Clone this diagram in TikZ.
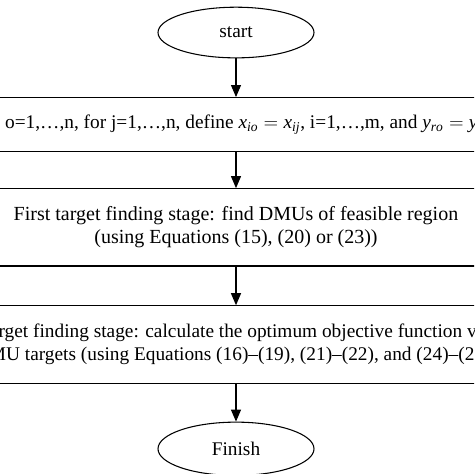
\documentclass[tikz,border=0pt]{standalone}
\usepackage{fontspec}
\setmainfont{Liberation Serif}
\usepackage{tikz}
\usetikzlibrary{positioning, arrows.meta, shapes.geometric}

\begin{document}
\begin{tikzpicture}[-{Triangle[width=7.5pt,length=9pt]}, line width=0.8pt, node distance = 1cm,
    every node/.style={font=\fontsize{14.5}{17.5}\selectfont},
    terminal/.style={draw, ellipse, inner sep=0pt, minimum width=117pt, minimum height=38pt},
    stagebox/.style={draw, rectangle, align=center, minimum width=600pt, minimum height=58pt}]
				\useasboundingbox (-177pt,24.4pt) rectangle (178.5pt,-331.1pt);
				\clip (-177pt,24.4pt) rectangle (178.5pt,-331.1pt);
				
				\node[terminal] (start)                                    {start};
				\node[stagebox, minimum height=40.5pt] (define) [below = 29pt of start]
				  {For DMU$_o$, o=1,\dots,n, for j=1,\dots,n, define $\mathit{x}_{\mathit{io}}=\mathit{x}_{\mathit{ij}}$, i=1,\dots,m, and $\mathit{y}_{\mathit{ro}}=\mathit{y}_{\mathit{rj}}$, r=1,\dots,s};
				\node[stagebox, font=\fontsize{15}{17.5}\selectfont] (first)  [below = 27pt of define]
				  {First target finding stage: find DMUs of feasible region\\(using Equations (15), (20) or (23))};
				\node[stagebox] (second) [below = 29pt of first]
				  {Second target finding stage: calculate the optimum objective function values and\\DMU targets (using Equations (16)--(19), (21)--(22), and (24)--(26))};
				\node[terminal, minimum height=40pt] (finish) [below = 28.5pt of second] {Finish};
				
				\path
				(start)  edge (define)
				(define) edge (first)
				(first)  edge (second)
				(second) edge (finish)
				;
				
			\end{tikzpicture}
\end{document}
